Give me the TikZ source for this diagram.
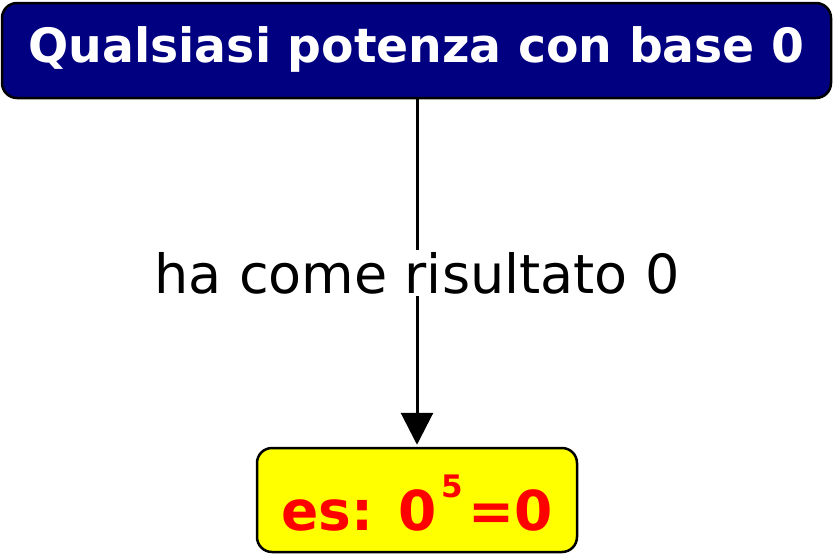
\documentclass[tikz,border=0pt]{standalone}
\usepackage{fontspec}
\setmainfont{DejaVu Sans}
\usetikzlibrary{arrows.meta}
\definecolor{topnavy}{RGB}{0,0,128}
\definecolor{boxyellow}{RGB}{255,255,0}
\definecolor{textred}{RGB}{255,0,0}
\tikzset{
  conceptbox/.style={draw=black, line width=2.5pt, rounded corners=15pt, inner sep=0pt, anchor=center},
  linkarrow/.style={line width=3pt, -{Triangle[width=32pt,length=32pt]}, shorten >=2pt},
  linklabel/.style={fill=white, inner xsep=2pt, inner ysep=2pt, font=\fontsize{54}{60}\selectfont}
}
\begin{document}
\begin{tikzpicture}[x=1pt,y=-1pt]
\useasboundingbox (0,0) rectangle (839,558);
\node[conceptbox, fill=topnavy, minimum width=829pt, minimum height=95pt,
      text=white, text height=23pt, text depth=0pt,
      font=\bfseries\fontsize{47.3}{54}\selectfont] (top) at (416.5,50.5)
      {Qualsiasi potenza con base 0};
\node[conceptbox, fill=boxyellow, minimum width=320pt, minimum height=104pt,
      text=textred, text height=60pt, text depth=0pt,
      font=\bfseries\fontsize{55}{62}\selectfont] (ex) at (417,500)
      {es: 0\hspace{5pt}\raisebox{33pt}{\fontsize{31}{34}\selectfont 5}\hspace{5pt}=0};
\draw[linkarrow] (top.south -| ex.north) -- (ex.north)
  node[pos=0.5, linklabel] (lbl) {ha come risultato 0};
\end{tikzpicture}
\end{document}
